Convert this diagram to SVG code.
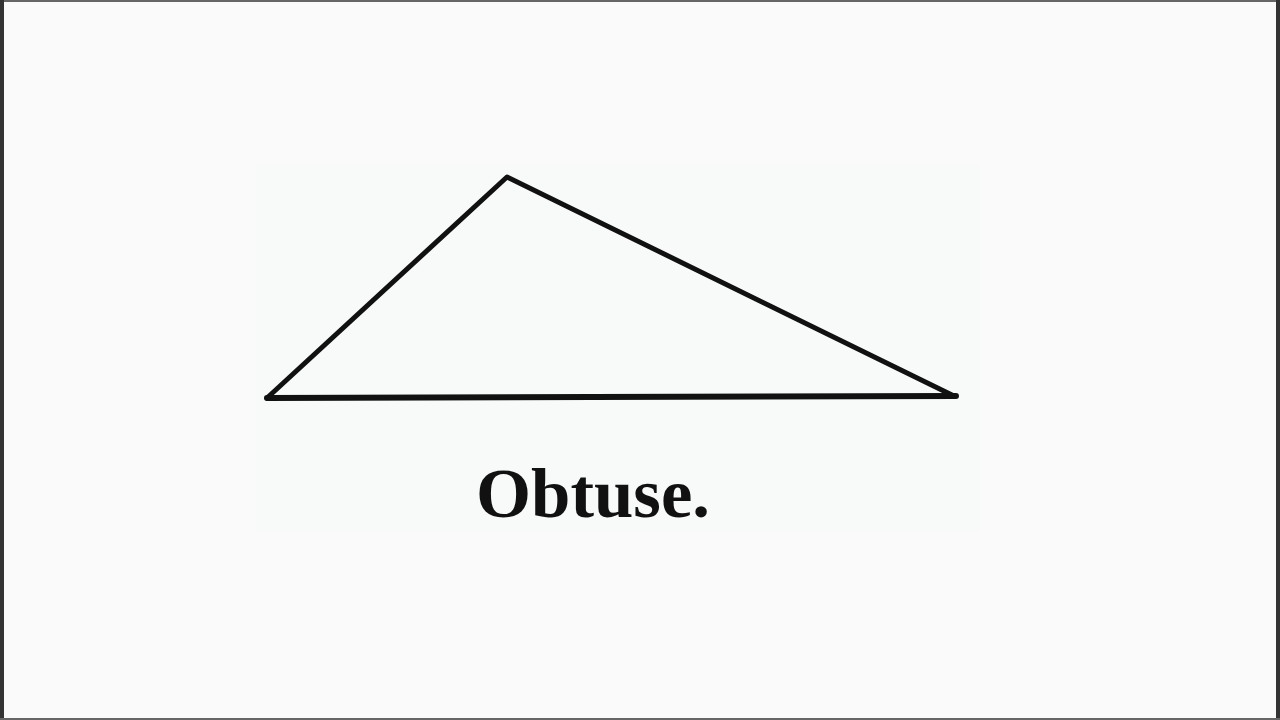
<svg xmlns="http://www.w3.org/2000/svg" width="1280" height="720" viewBox="0 0 1280 720">
<style>
.edge{fill:none;stroke:#111;stroke-width:5;stroke-linejoin:round;stroke-linecap:round}
.lbl{font-family:"Liberation Serif","Times New Roman",serif;font-weight:bold;font-size:70px;fill:#111}
</style>
<rect x="0" y="0" width="1280" height="720" fill="#fafafa"/>
<rect x="256" y="164" width="724" height="368" fill="#f8fafa"/>
<rect x="0" y="0" width="1280" height="2" fill="#666"/>
<rect x="0" y="0" width="4" height="720" fill="#333"/>
<rect x="1276" y="0" width="4" height="720" fill="#333"/>
<rect x="0" y="718" width="1280" height="2" fill="#666"/>
<g id="triangle">
<path class="edge" d="M267,398 L507,177 L954,396"/>
<path class="edge" d="M267,398 L956,396" style="stroke-width:6"/>
</g>
<g id="label">
<text class="lbl" x="593" y="517" text-anchor="middle" textLength="234" lengthAdjust="spacingAndGlyphs">Obtuse.</text>
</g>
</svg>
